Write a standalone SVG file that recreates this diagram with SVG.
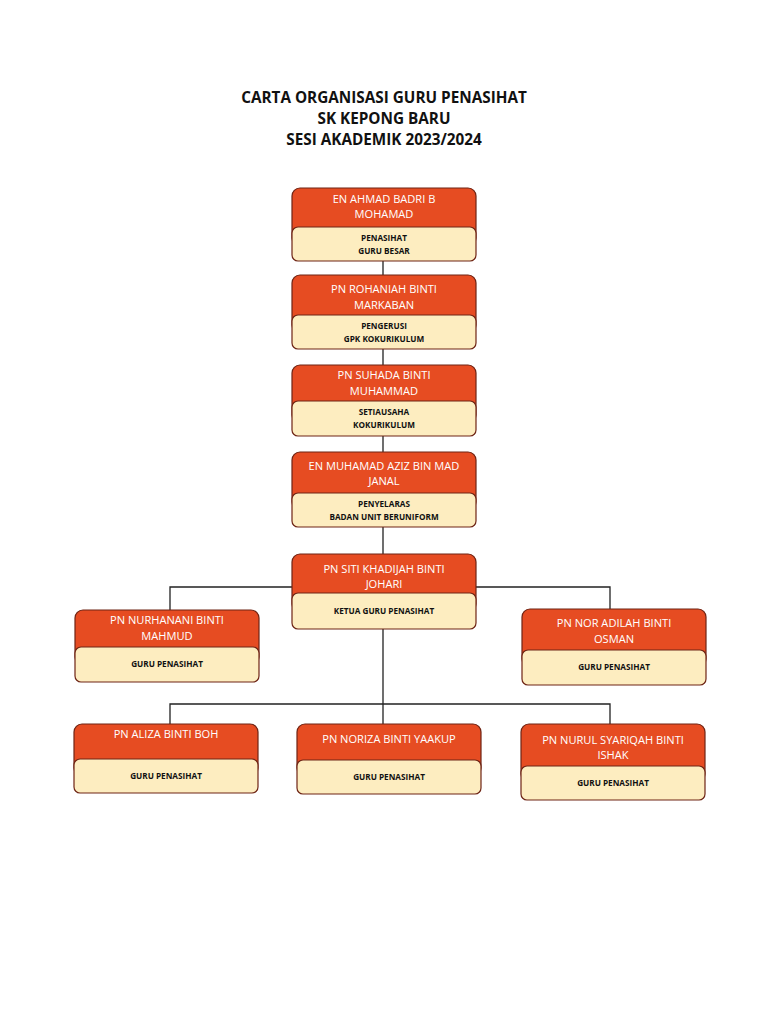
<svg xmlns="http://www.w3.org/2000/svg" width="768" height="1024" viewBox="0 0 768 1024">
<style>
.o{fill:#E64C22;stroke:#6E2414;stroke-width:1.2}
.c{fill:#FDEDC0;stroke:#6E2414;stroke-width:1.2}
.n{font-family:"Open Sans","Liberation Sans",sans-serif;font-size:11.1px;fill:#fff;text-anchor:middle}
.r{font-family:"Open Sans","Liberation Sans",sans-serif;font-size:8.2px;font-weight:bold;fill:#111;text-anchor:middle}
.t{font-family:"Open Sans","Liberation Sans",sans-serif;font-size:15.3px;font-weight:bold;fill:#111;text-anchor:middle}
.l{fill:none;stroke:#222;stroke-width:1.3}
</style>
<rect width="768" height="1024" fill="#fff"/>
<g id="title">
<text class="t" x="384" y="103">CARTA ORGANISASI GURU PENASIHAT</text>
<text class="t" x="384" y="124">SK KEPONG BARU</text>
<text class="t" x="384" y="145">SESI AKADEMIK 2023/2024</text>
</g>
<g id="connectors">
<path class="l" d="M383 261V275M383 349V365M383 436V452M383 527V554"/>
<path class="l" d="M292 587H170V610M476 587H610V609"/>
<path class="l" d="M383 629V704M170 724V704H610V724M383 704V724"/>
</g>
<g id="n1">
<rect class="o" x="292" y="188" width="184" height="58" rx="8"/>
<rect class="c" x="292" y="227" width="184" height="34" rx="6"/>
<text class="n" x="384" y="203">EN AHMAD BADRI B</text>
<text class="n" x="384" y="218">MOHAMAD</text>
<text class="r" x="384" y="241">PENASIHAT</text>
<text class="r" x="384" y="254">GURU BESAR</text>
</g>
<g id="n2">
<rect class="o" x="292" y="275" width="184" height="58" rx="8"/>
<rect class="c" x="292" y="315" width="184" height="34" rx="6"/>
<text class="n" x="384" y="293">PN ROHANIAH BINTI</text>
<text class="n" x="384" y="309">MARKABAN</text>
<text class="r" x="384" y="329">PENGERUSI</text>
<text class="r" x="384" y="342">GPK KOKURIKULUM</text>
</g>
<g id="n3">
<rect class="o" x="292" y="365" width="184" height="58" rx="8"/>
<rect class="c" x="292" y="401" width="184" height="35" rx="6"/>
<text class="n" x="384" y="379">PN SUHADA BINTI</text>
<text class="n" x="384" y="395">MUHAMMAD</text>
<text class="r" x="384" y="415">SETIAUSAHA</text>
<text class="r" x="384" y="428">KOKURIKULUM</text>
</g>
<g id="n4">
<rect class="o" x="292" y="452" width="184" height="58" rx="8"/>
<rect class="c" x="292" y="493" width="184" height="34" rx="6"/>
<text class="n" x="384" y="470">EN MUHAMAD AZIZ BIN MAD</text>
<text class="n" x="384" y="485">JANAL</text>
<text class="r" x="384" y="507">PENYELARAS</text>
<text class="r" x="384" y="520">BADAN UNIT BERUNIFORM</text>
</g>
<g id="n5">
<rect class="o" x="292" y="554" width="184" height="58" rx="8"/>
<rect class="c" x="292" y="593" width="184" height="36" rx="6"/>
<text class="n" x="384" y="573">PN SITI KHADIJAH BINTI</text>
<text class="n" x="384" y="588">JOHARI</text>
<text class="r" x="384" y="614">KETUA GURU PENASIHAT</text>
</g>
<g id="n6">
<rect class="o" x="75" y="610" width="184" height="55" rx="8"/>
<rect class="c" x="75" y="647" width="184" height="35" rx="6"/>
<text class="n" x="167" y="624">PN NURHANANI BINTI</text>
<text class="n" x="167" y="640">MAHMUD</text>
<text class="r" x="167" y="667">GURU PENASIHAT</text>
</g>
<g id="n7">
<rect class="o" x="522" y="609" width="184" height="58" rx="8"/>
<rect class="c" x="522" y="650" width="184" height="35" rx="6"/>
<text class="n" x="614" y="627">PN NOR ADILAH BINTI</text>
<text class="n" x="614" y="643">OSMAN</text>
<text class="r" x="614" y="670">GURU PENASIHAT</text>
</g>
<g id="n8">
<rect class="o" x="74" y="724" width="184" height="52" rx="8"/>
<rect class="c" x="74" y="759" width="184" height="34" rx="6"/>
<text class="n" x="166" y="738">PN ALIZA BINTI BOH</text>
<text class="r" x="166" y="779">GURU PENASIHAT</text>
</g>
<g id="n9">
<rect class="o" x="297" y="724" width="184" height="52" rx="8"/>
<rect class="c" x="297" y="760" width="184" height="34" rx="6"/>
<text class="n" x="389" y="743">PN NORIZA BINTI YAAKUP</text>
<text class="r" x="389" y="780">GURU PENASIHAT</text>
</g>
<g id="n10">
<rect class="o" x="521" y="724" width="184" height="58" rx="8"/>
<rect class="c" x="521" y="766" width="184" height="34" rx="6"/>
<text class="n" x="613" y="744">PN NURUL SYARIQAH BINTI</text>
<text class="n" x="613" y="759">ISHAK</text>
<text class="r" x="613" y="786">GURU PENASIHAT</text>
</g>
</svg>
